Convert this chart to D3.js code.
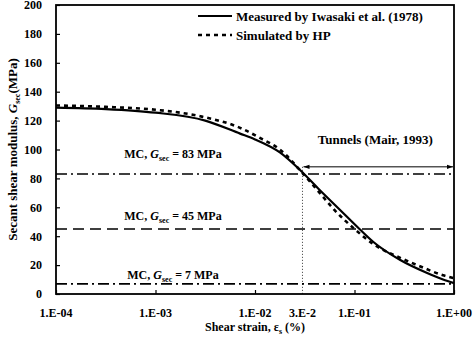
<!DOCTYPE html>
<html>
<head>
<meta charset="utf-8">
<script src="https://cdn.jsdelivr.net/npm/d3@7"></script>
<style>
  body { margin: 0; background: #fff; }
  svg { display: block; font-family: "Liberation Serif", "Times New Roman", serif; font-weight: bold; }
</style>
</head>
<body>
<div id="chart"></div>
<script>
// log10 of shear strain (%) and secant modulus (MPa)
const measuredLogStrain = [-4, -3.5, -3, -2.5, -2.15, -2, -1.75, -1.55, -1.35, -1.15, -0.95, -0.81, -0.54, -0.27, -0.11, 0];
const measuredG         = [129, 128, 125.5, 120, 111, 107, 98, 86, 72, 58.5, 45, 36, 23.5, 14.5, 10, 7.5];

const simulatedLogStrain = [-4, -3.5, -3, -2.55, -2.15, -1.95, -1.75, -1.52, -1.35, -1.2, -1, -0.81, -0.54, -0.37, -0.11, 0];
const simulatedG         = [130.5, 129.5, 127.5, 123, 115, 108, 100, 83.5, 70, 58, 45, 34.5, 25, 20, 13, 11];

const mcLevels = [83, 45, 7];
const mcLabelsAt = [97, 54, 13];
const tunnelStart = 3e-2;

const xTicks = [1e-4, 1e-3, 1e-2, 3e-2, 1e-1, 1];
const xTickLabels = ["1.E-04", "1.E-03", "1.E-02", "3.E-2", "1.E-01", "1.E+00"];
const yTicks = [0, 20, 40, 60, 80, 100, 120, 140, 160, 180, 200];

const W = 474, H = 337;
const margin = { top: 5, right: 20, bottom: 43, left: 56 };
const innerW = W - margin.left - margin.right;
const innerH = H - margin.top - margin.bottom;

const svg = d3.select("#chart").append("svg")
  .attr("width", W).attr("height", H);

const g = svg.append("g")
  .attr("transform", `translate(${margin.left},${margin.top})`);

const x = d3.scaleLog().domain([1e-4, 1]).range([0, innerW]);
const y = d3.scaleLinear().domain([0, 200]).range([innerH, 0]);

// axes with inward ticks
const xAxis = g.append("g")
  .attr("transform", `translate(0,${innerH})`)
  .call(d3.axisBottom(x).tickValues(xTicks.filter(t => t !== 3e-2))
    .tickSize(-4).tickFormat(""));
xAxis.select(".domain").remove();
xAxis.selectAll("line").attr("stroke", "#000").attr("stroke-width", 1.2);

g.selectAll(".xlab")
  .data(xTicks)
  .join("text")
    .attr("class", "xlab")
    .attr("x", d => x(d))
    .attr("y", innerH + 23)
    .attr("text-anchor", "middle")
    .attr("font-size", 12)
    .text((d, i) => xTickLabels[i]);

const yAxis = g.append("g")
  .call(d3.axisLeft(y).tickValues(yTicks).tickSize(-4).tickPadding(14));
yAxis.select(".domain").remove();
yAxis.selectAll("line").attr("stroke", "#000").attr("stroke-width", 1.2);
yAxis.selectAll("text")
  .attr("font-size", 12)
  .attr("font-family", "Liberation Serif, serif")
  .attr("font-weight", "bold")
  .attr("fill", "#000");

// frame
g.append("rect")
  .attr("width", innerW).attr("height", innerH)
  .attr("fill", "none").attr("stroke", "#000").attr("stroke-width", 1.8);

// Mohr-Coulomb reference levels
const mcDash = ["11,4,2,4", "11,6", "11,4,2,4"];
g.selectAll(".mc")
  .data(mcLevels)
  .join("line")
    .attr("x1", 0).attr("x2", innerW)
    .attr("y1", d => y(d)).attr("y2", d => y(d))
    .attr("stroke", "#000").attr("stroke-width", 1.6)
    .attr("stroke-dasharray", (d, i) => mcDash[i]);

const mcText = g.selectAll(".mclab")
  .data(mcLevels)
  .join("text")
    .attr("class", "mclab")
    .attr("x", 117)
    .attr("y", (d, i) => y(mcLabelsAt[i]) + 4)
    .attr("text-anchor", "middle")
    .attr("font-size", 12);
mcText.append("tspan").text("MC, ");
mcText.append("tspan").attr("font-style", "italic").text("G");
mcText.append("tspan").attr("font-size", 8).attr("dy", 3).text("sec");
mcText.append("tspan").attr("dy", -3).text(d => ` = ${d} MPa`);

// tunnel strain range
g.append("line")
  .attr("x1", x(tunnelStart)).attr("x2", x(tunnelStart))
  .attr("y1", y(88)).attr("y2", innerH)
  .attr("stroke", "#000").attr("stroke-width", 0.8)
  .attr("stroke-dasharray", "1,2");

const defs = svg.append("defs");
defs.append("marker")
  .attr("id", "arr")
  .attr("viewBox", "0 0 10 10")
  .attr("refX", 10).attr("refY", 5)
  .attr("markerWidth", 7).attr("markerHeight", 6)
  .attr("orient", "auto-start-reverse")
  .append("path").attr("d", "M0,1.5L10,5L0,8.5Z").attr("fill", "#000");

g.append("line")
  .attr("x1", x(tunnelStart) + 1).attr("x2", innerW - 1)
  .attr("y1", y(88)).attr("y2", y(88))
  .attr("stroke", "#000").attr("stroke-width", 1)
  .attr("marker-start", "url(#arr)")
  .attr("marker-end", "url(#arr)");

g.append("text")
  .attr("x", (x(tunnelStart) + innerW) / 2 - 3)
  .attr("y", y(104))
  .attr("text-anchor", "middle")
  .attr("font-size", 13)
  .text("Tunnels (Mair, 1993)");

// curves
const line = d3.line()
  .x(d => x(Math.pow(10, d[0])))
  .y(d => y(d[1]))
  .curve(d3.curveMonotoneX);

g.append("path")
  .datum(measuredLogStrain.map((v, i) => [v, measuredG[i]]))
  .attr("d", line)
  .attr("fill", "none").attr("stroke", "#000").attr("stroke-width", 2.2);

g.append("path")
  .datum(simulatedLogStrain.map((v, i) => [v, simulatedG[i]]))
  .attr("d", line)
  .attr("fill", "none").attr("stroke", "#000").attr("stroke-width", 2.6)
  .attr("stroke-dasharray", "4,4");

// legend
const legend = svg.append("g").attr("transform", "translate(198,16)");
legend.append("line").attr("x1", 0).attr("x2", 34).attr("y1", 0).attr("y2", 0)
  .attr("stroke", "#000").attr("stroke-width", 2.2);
legend.append("line").attr("x1", 0).attr("x2", 34).attr("y1", 19).attr("y2", 19)
  .attr("stroke", "#000").attr("stroke-width", 2.6).attr("stroke-dasharray", "4,4");
legend.append("text").attr("x", 38).attr("y", 4.5).attr("font-size", 13)
  .text("Measured by Iwasaki et al. (1978)");
legend.append("text").attr("x", 38).attr("y", 23.5).attr("font-size", 13)
  .text("Simulated by HP");

// axis titles
const xt = svg.append("text")
  .attr("x", 255).attr("y", 331)
  .attr("text-anchor", "middle")
  .attr("font-size", 12);
xt.append("tspan").text("Shear strain, ε");
xt.append("tspan").attr("font-size", 8).attr("dy", 3).text("s");
xt.append("tspan").attr("dy", -3).text(" (%)");

const yt = svg.append("text")
  .attr("transform", `translate(17,${margin.top + innerH / 2}) rotate(-90)`)
  .attr("text-anchor", "middle")
  .attr("font-size", 13);
yt.append("tspan").text("Secant shear modulus, ");
yt.append("tspan").attr("font-style", "italic").text("G");
yt.append("tspan").attr("font-size", 8).attr("dy", 3).text("sec");
yt.append("tspan").attr("dy", -3).text("(MPa)");
</script>
</body>
</html>
